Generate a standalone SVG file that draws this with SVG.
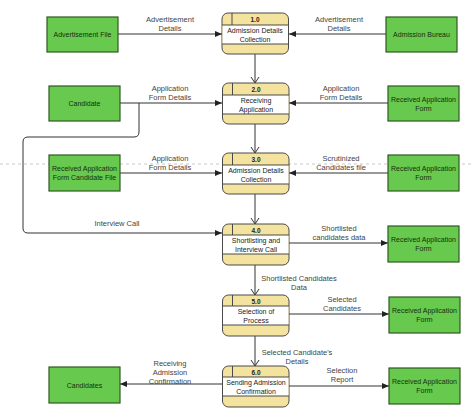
<svg xmlns="http://www.w3.org/2000/svg" width="474" height="412" viewBox="0 0 474 412">
<style>
.ext{fill:#68C94F;stroke:#2F5A22;stroke-width:1.2}
.et{font-family:"Liberation Sans",Arial,sans-serif;font-size:7px;fill:#14300c;text-anchor:middle}
.proc{fill:#F3E39E;stroke:#4a4a4a;stroke-width:1}
.band{fill:#ffffff}
.pl{stroke:#4a4a4a;stroke-width:1;fill:none}
.ht{font-family:"Liberation Sans",Arial,sans-serif;font-size:6.5px;font-weight:bold;fill:#222;text-anchor:middle}
.pt{font-family:"Liberation Sans",Arial,sans-serif;font-size:7px;fill:#222;text-anchor:middle}
.lbl{font-family:"Liberation Sans",Arial,sans-serif;font-size:7.5px;fill:#444;text-anchor:middle}
.c{stroke:#333;stroke-width:1;fill:none}
.h{marker-end:url(#tri)}
.v{marker-end:url(#open)}
</style>
<defs>
<marker id="tri" markerWidth="7" markerHeight="6" refX="7" refY="3" orient="auto" markerUnits="userSpaceOnUse"><path d="M0,0 L7,3 L0,6 Z" fill="#222"/></marker>
<marker id="open" markerWidth="8" markerHeight="10" refX="6.5" refY="4.5" orient="auto" markerUnits="userSpaceOnUse"><path d="M0.5,0.5 L6.5,4.5 L0.5,8.5" fill="none" stroke="#333" stroke-width="1"/></marker>
</defs>
<rect width="474" height="412" fill="#ffffff"/>
<line x1="0" y1="164" x2="474" y2="164" stroke="#c8c8c8" stroke-width="1" stroke-dasharray="3,3"/>

<g id="connectors">
<line class="c h" x1="118" y1="34" x2="222" y2="34"/>
<line class="c h" x1="386" y1="34" x2="289" y2="34"/>
<line class="c v" x1="255" y1="54" x2="255" y2="83"/>
<line class="c h" x1="120" y1="103" x2="222" y2="103"/>
<path class="c h" d="M139,103 V132 Q139,137 134,137 H28 Q23,137 23,142 V228 Q23,233 28,233 H222"/>
<line class="c h" x1="388" y1="103" x2="289" y2="103"/>
<line class="c v" x1="255" y1="124" x2="255" y2="153"/>
<line class="c h" x1="120" y1="173" x2="222" y2="173"/>
<line class="c h" x1="388" y1="173" x2="289" y2="173"/>
<line class="c v" x1="255" y1="194" x2="255" y2="224"/>
<line class="c h" x1="289" y1="243" x2="388" y2="243"/>
<line class="c v" x1="255" y1="265" x2="255" y2="295"/>
<line class="c h" x1="289" y1="314" x2="389" y2="314"/>
<line class="c v" x1="255" y1="336" x2="255" y2="366"/>
<line class="c h" x1="289" y1="386" x2="389" y2="386"/>
<line class="c h" x1="222" y1="384" x2="120" y2="384"/>
</g>

<g id="labels">
<text class="lbl" x="170" y="22">Advertisement</text><text class="lbl" x="170" y="31">Details</text>
<text class="lbl" x="339" y="22">Advertisement</text><text class="lbl" x="339" y="31">Details</text>
<text class="lbl" x="170" y="91">Application</text><text class="lbl" x="170" y="100">Form Details</text>
<text class="lbl" x="341" y="91">Application</text><text class="lbl" x="341" y="100">Form Details</text>
<text class="lbl" x="170" y="161">Application</text><text class="lbl" x="170" y="170">Form Details</text>
<text class="lbl" x="341" y="161">Scrutinized</text><text class="lbl" x="341" y="170">Candidates file</text>
<text class="lbl" x="117" y="226">Interview Call</text>
<text class="lbl" x="339" y="231">Shortlisted</text><text class="lbl" x="339" y="240">candidates data</text>
<text class="lbl" x="299" y="281">Shortlisted Candidates</text><text class="lbl" x="299" y="290">Data</text>
<text class="lbl" x="342" y="302">Selected</text><text class="lbl" x="342" y="311">Candidates</text>
<text class="lbl" x="297" y="355">Selected Candidate's</text><text class="lbl" x="297" y="364">Details</text>
<text class="lbl" x="342" y="373">Selection</text><text class="lbl" x="342" y="382">Report</text>
<text class="lbl" x="170" y="366">Receiving</text><text class="lbl" x="170" y="375">Admission</text><text class="lbl" x="170" y="384">Confirmation</text>
</g>

<g id="ext-advertisement-file"><rect class="ext" x="47" y="17" width="71" height="35"/><text class="et" x="82.5" y="37">Advertisement File</text></g>
<g id="ext-admission-bureau"><rect class="ext" x="386" y="17" width="71" height="35"/><text class="et" x="421.5" y="37">Admission Bureau</text></g>
<g id="ext-candidate"><rect class="ext" x="49" y="86" width="71" height="35"/><text class="et" x="84.5" y="106">Candidate</text></g>
<g id="ext-received-form-2"><rect class="ext" x="388" y="86" width="71" height="35"/><text class="et" x="423.5" y="101.5">Received Application</text><text class="et" x="423.5" y="110.5">Form</text></g>
<g id="ext-received-candidate-file"><rect class="ext" x="49" y="155" width="71" height="36"/><text class="et" x="84.5" y="171">Received Application</text><text class="et" x="84.5" y="180">Form Candidate File</text></g>
<g id="ext-received-form-3"><rect class="ext" x="388" y="155" width="71" height="36"/><text class="et" x="423.5" y="171">Received Application</text><text class="et" x="423.5" y="180">Form</text></g>
<g id="ext-received-form-4"><rect class="ext" x="388" y="226" width="71" height="36"/><text class="et" x="423.5" y="241.5">Received Application</text><text class="et" x="423.5" y="250.5">Form</text></g>
<g id="ext-received-form-5"><rect class="ext" x="389" y="297" width="71" height="36"/><text class="et" x="424.5" y="312.5">Received Application</text><text class="et" x="424.5" y="321.5">Form</text></g>
<g id="ext-received-form-6"><rect class="ext" x="389" y="368" width="71" height="36"/><text class="et" x="424.5" y="383.5">Received Application</text><text class="et" x="424.5" y="392.5">Form</text></g>
<g id="ext-candidates"><rect class="ext" x="49" y="367" width="71" height="36"/><text class="et" x="84.5" y="387.5">Candidates</text></g>

<g id="proc-1">
<rect class="proc" x="222" y="13" width="66.5" height="41" rx="6"/>
<rect class="band" x="222.5" y="25" width="65.5" height="19"/>
<line class="pl" x1="222" y1="25" x2="288.5" y2="25"/><line class="pl" x1="222" y1="44" x2="288.5" y2="44"/><line class="pl" x1="232" y1="13" x2="232" y2="25"/>
<text class="ht" x="255" y="22">1.0</text>
<text class="pt" x="255" y="32.5">Admission Details</text><text class="pt" x="255" y="41.5">Collection</text>
</g>
<g id="proc-2">
<rect class="proc" x="222.5" y="83" width="66.5" height="41" rx="6"/>
<rect class="band" x="223" y="95" width="65.5" height="19"/>
<line class="pl" x1="222.5" y1="95" x2="289" y2="95"/><line class="pl" x1="222.5" y1="114" x2="289" y2="114"/><line class="pl" x1="232.5" y1="83" x2="232.5" y2="95"/>
<text class="ht" x="256" y="92">2.0</text>
<text class="pt" x="256" y="102.5">Receiving</text><text class="pt" x="256" y="111.5">Application</text>
</g>
<g id="proc-3">
<rect class="proc" x="222.5" y="153" width="66.5" height="41" rx="6"/>
<rect class="band" x="223" y="165" width="65.5" height="19"/>
<line class="pl" x1="222.5" y1="165" x2="289" y2="165"/><line class="pl" x1="222.5" y1="184" x2="289" y2="184"/><line class="pl" x1="232.5" y1="153" x2="232.5" y2="165"/>
<text class="ht" x="256" y="162">3.0</text>
<text class="pt" x="256" y="172.5">Admission Details</text><text class="pt" x="256" y="181.5">Collection</text>
</g>
<g id="proc-4">
<rect class="proc" x="222.5" y="224" width="66.5" height="41" rx="6"/>
<rect class="band" x="223" y="235" width="65.5" height="19"/>
<line class="pl" x1="222.5" y1="235" x2="289" y2="235"/><line class="pl" x1="222.5" y1="254" x2="289" y2="254"/><line class="pl" x1="232.5" y1="224" x2="232.5" y2="235"/>
<text class="ht" x="256" y="232.5">4.0</text>
<text class="pt" x="256" y="243">Shortlisting and</text><text class="pt" x="256" y="252">Interview Call</text>
</g>
<g id="proc-5">
<rect class="proc" x="222.5" y="295" width="66.5" height="41" rx="6"/>
<rect class="band" x="223" y="306" width="65.5" height="19"/>
<line class="pl" x1="222.5" y1="306" x2="289" y2="306"/><line class="pl" x1="222.5" y1="325" x2="289" y2="325"/><line class="pl" x1="232.5" y1="295" x2="232.5" y2="306"/>
<text class="ht" x="256" y="303.5">5.0</text>
<text class="pt" x="256" y="314">Selection of</text><text class="pt" x="256" y="323">Process</text>
</g>
<g id="proc-6">
<rect class="proc" x="222.5" y="366" width="66.5" height="41" rx="6"/>
<rect class="band" x="223" y="377" width="65.5" height="19"/>
<line class="pl" x1="222.5" y1="377" x2="289" y2="377"/><line class="pl" x1="222.5" y1="396" x2="289" y2="396"/><line class="pl" x1="232.5" y1="366" x2="232.5" y2="377"/>
<text class="ht" x="256" y="374.5">6.0</text>
<text class="pt" x="256" y="385">Sending Admission</text><text class="pt" x="256" y="394">Confirmation</text>
</g>
</svg>
